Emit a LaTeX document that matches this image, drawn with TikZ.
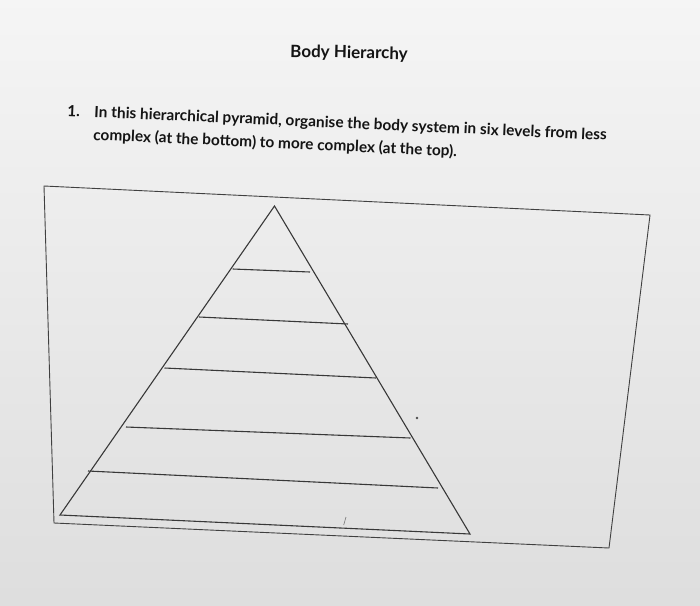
\documentclass[tikz,border=0pt]{standalone}
\usepackage{fontspec}
\setmainfont{Lato}
\begin{document}
\begin{tikzpicture}[x=1pt,y=-1pt,
  ink/.style={draw=black!78, line width=1.1pt},
  thin ink/.style={draw=black!75, line width=0.9pt},
  txt/.style={inner sep=0pt, anchor=base west, font=\bfseries, text=black!92}]
\useasboundingbox (0,0) rectangle (700,605);
\shade[top color=black!4, bottom color=black!13] (0,0) rectangle (700,605);
% title and question
\node[txt, font=\bfseries\fontsize{17}{20}\selectfont, rotate=-1.2] (title) at (290,57) {Body Hierarchy};
\node[txt, font=\bfseries\fontsize{15.4}{18}\selectfont, rotate=-2.6] (num) at (67,116) {1.};
\node[txt, font=\bfseries\fontsize{15.4}{23}\selectfont, rotate=-2.6, align=left] (q) at (93,140) {In this hierarchical pyramid, organise the body system in six levels from less\\complex (at the bottom) to more complex (at the top).};
% frame
\coordinate (f1) at (44,186);
\coordinate (f2) at (650,215);
\coordinate (f3) at (609,548);
\coordinate (f4) at (54,523);
\draw[thin ink] (f1) -- (f2) -- (f3) -- (f4) -- cycle;
% pyramid
\coordinate (apex) at (274.5,206);
\coordinate (bl) at (60,515);
\coordinate (br) at (470,534);
\draw[ink, line join=miter] (apex) -- (br) -- (bl) -- cycle;
\coordinate (a1) at (232.6,269); \coordinate (b1) at (310,272);
\coordinate (a2) at (199,317);   \coordinate (b2) at (348,324);
\coordinate (a3) at (164.5,368); \coordinate (b3) at (376,378);
\coordinate (a4) at (126,427);   \coordinate (b4) at (410.5,438);
\coordinate (a5) at (88,471);    \coordinate (b5) at (438,488);
\foreach \i in {1,...,5} \draw[ink] (a\i) -- (b\i);
\fill[black!70] (417,418) circle (1.3pt);
\draw[black!55, line width=0.6pt] (343.7,525) -- (346,517);
\end{tikzpicture}
\end{document}
